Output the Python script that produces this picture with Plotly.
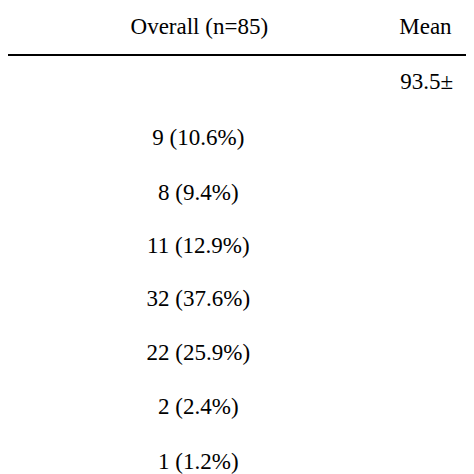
import plotly.graph_objects as go

headers = ["Overall (n=85)", "Mean"]
overall = ["9 (10.6%)", "8 (9.4%)", "11 (12.9%)", "32 (37.6%)", "22 (25.9%)", "2 (2.4%)", "1 (1.2%)"]
mean_first = "93.5±"

row_y = [131, 186, 239, 292, 346, 400, 455]

fig = go.Figure()
font = dict(family="Liberation Serif, Times New Roman, serif", size=23, color="black")

fig.add_trace(go.Scatter(x=[198, 432], y=[20, 20], mode="text", text=headers,
                         textfont=font, hoverinfo="skip"))
fig.add_trace(go.Scatter(x=[197] * len(overall), y=row_y, mode="text", text=overall,
                         textfont=font, hoverinfo="skip"))
fig.add_trace(go.Scatter(x=[406], y=[75], mode="text", text=[mean_first],
                         textposition="middle right", textfont=font, hoverinfo="skip"))

fig.add_shape(type="line", x0=0, x1=474, y0=47, y1=47, line=dict(color="black", width=2))

fig.update_layout(
    showlegend=False, autosize=True,
    margin=dict(l=0, r=0, t=0, b=0, pad=0),
    paper_bgcolor="white", plot_bgcolor="white",
    xaxis=dict(range=[0, 474], visible=False, fixedrange=True),
    yaxis=dict(range=[474, 0], visible=False, fixedrange=True),
)
fig.write_html("out.html", default_width="100%", default_height="100vh",
               config={"displayModeBar": False})
